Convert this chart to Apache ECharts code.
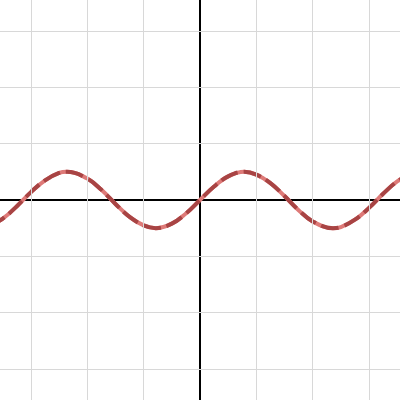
<!DOCTYPE html>
<html><head><meta charset="utf-8">
<script src="https://cdn.jsdelivr.net/npm/echarts@6/dist/echarts.min.js"></script>
<style>html,body{margin:0;padding:0;background:#fff}#c{width:400px;height:400px}</style>
</head><body><div id="c"></div>
<script>
const xs = [-3.75,-3.5,-3.25,-3,-2.75,-2.5,-2.36,-2,-1.75,-1.5,-1.25,-1,-0.785,-0.5,-0.25,0,0.25,0.5,0.785,1,1.25,1.5,1.75,2,2.36,2.5,2.75,3,3.25,3.5,3.75];
const ys = [-0.47,-0.33,-0.11,0.14,0.35,0.48,0.50,0.38,0.18,-0.07,-0.30,-0.45,-0.50,-0.42,-0.24,0,0.24,0.42,0.50,0.45,0.30,0.07,-0.18,-0.38,-0.50,-0.48,-0.35,-0.14,0.11,0.33,0.47];
const gridTicks = [-3,-2,-1,1,2,3];
const pts = xs.map((x,i)=>[x,ys[i]]);
const ax = {type:'value',min:-3.55,max:3.55,
  axisLine:{onZero:true,lineStyle:{color:'#000',width:2}},
  axisTick:{show:false},axisLabel:{show:false},splitLine:{show:false}};
const gl = {color:'#d8d8d8',width:1,type:'solid'};
const chart = echarts.init(document.getElementById('c'));
chart.setOption({
  animation:false,
  grid:{left:0,right:0,top:0,bottom:0},
  xAxis:ax, yAxis:Object.assign({},ax),
  series:[
    {type:'line',data:[],silent:true,
     markLine:{silent:true,symbol:'none',label:{show:false},lineStyle:gl,
       data:gridTicks.map(v=>({xAxis:v})).concat(gridTicks.map(v=>({yAxis:v})))}},
    {type:'line',data:pts,smooth:0.4,symbol:'none',lineStyle:{color:'#de7a78',width:4}},
    {type:'line',data:pts,smooth:0.4,symbol:'none',lineStyle:{color:'#a84444',width:4,type:[18,6]}}
  ]
});
</script></body></html>
